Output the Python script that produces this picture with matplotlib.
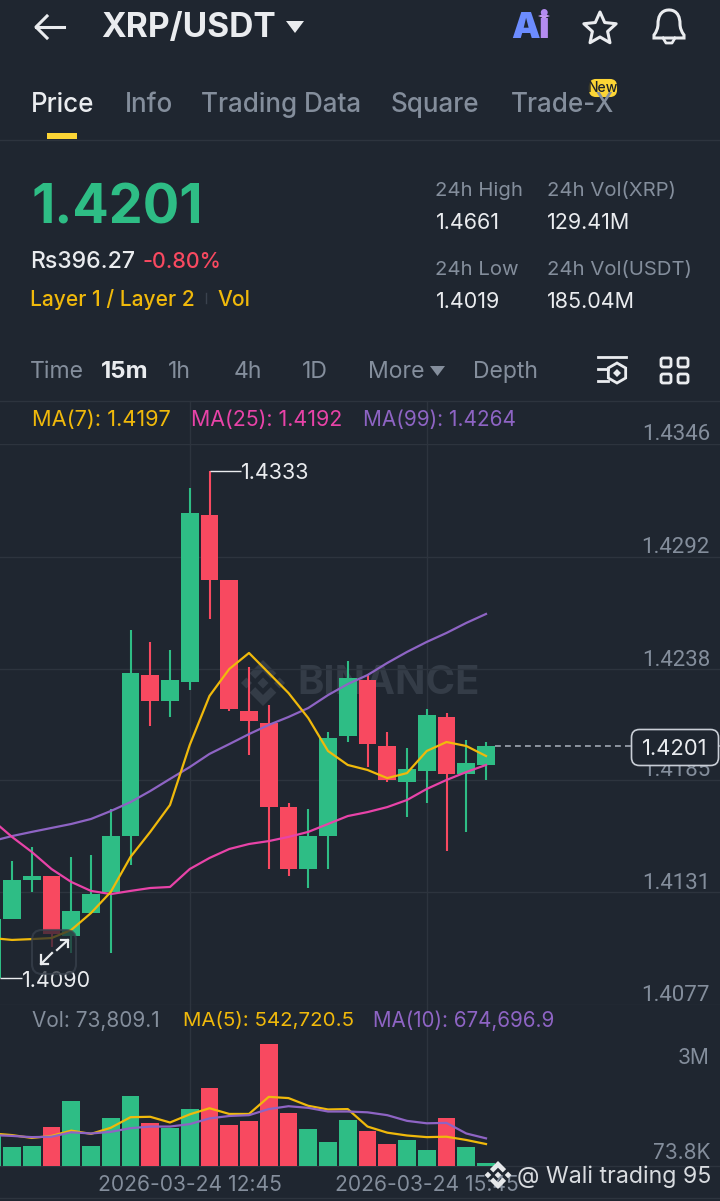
import numpy as np
import matplotlib
matplotlib.use("Agg")
import matplotlib.pyplot as plt
from matplotlib.patches import FancyBboxPatch, Polygon, PathPatch
from matplotlib.path import Path

W, H = 720, 1201

bg = '#1F2630'
grid_c = '#2D343E'
green = '#2EBD85'
red = '#F84960'
yellow = '#F0B90B'
pink = '#E843A8'
purple = '#8E64C4'
grey = '#848E9C'
white = '#EAECEF'

plt.rcParams['font.family'] = ['Inter', 'DejaVu Sans']

# candles, one per 15 minutes
opens = [1.4090, 1.4118, 1.4137, 1.4139, 1.4110, 1.4121, 1.4131, 1.4158, 1.4235, 1.4223, 1.4232, 1.4312, 1.4281,
         1.4218, 1.4212, 1.4172, 1.4142, 1.4158, 1.4206, 1.4233, 1.4201, 1.4184, 1.4189, 1.4215, 1.4188, 1.4192]
closes = [1.4118, 1.4137, 1.4139, 1.4111, 1.4122, 1.4130, 1.4158, 1.4236, 1.4223, 1.4233, 1.4313, 1.4281, 1.4219,
          1.4213, 1.4172, 1.4142, 1.4158, 1.4205, 1.4234, 1.4202, 1.4185, 1.4190, 1.4216, 1.4188, 1.4193, 1.4201]
highs = [1.4118, 1.4146, 1.4153, 1.4139, 1.4148, 1.4149, 1.4171, 1.4257, 1.4251, 1.4247, 1.4325, 1.4333, 1.4281,
         1.4239, 1.4221, 1.4174, 1.4171, 1.4208, 1.4242, 1.4235, 1.4208, 1.4200, 1.4219, 1.4217, 1.4204, 1.4203]
lows = [1.4090, 1.4118, 1.4131, 1.4105, 1.4102, 1.4121, 1.4102, 1.4144, 1.4211, 1.4215, 1.4228, 1.4262, 1.4218,
        1.4197, 1.4142, 1.4139, 1.4133, 1.4142, 1.4203, 1.4191, 1.4184, 1.4167, 1.4174, 1.4151, 1.4160, 1.4185]

ma7 = [1.41091, 1.41082, 1.41086, 1.41091, 1.41130, 1.41211, 1.41312, 1.41480, 1.41600, 1.41729, 1.42017, 1.42252,
       1.42381, 1.42458, 1.42362, 1.42266, 1.42146, 1.41988, 1.41921, 1.41897, 1.41858, 1.41882, 1.41988, 1.42031,
       1.42012, 1.41964]
ma25 = [1.41657, 1.41576, 1.41504, 1.41422, 1.41360, 1.41317, 1.41302, 1.41317, 1.41331, 1.41336, 1.41422, 1.41475,
        1.41518, 1.41542, 1.41556, 1.41576, 1.41600, 1.41638, 1.41676, 1.41695, 1.41719, 1.41753, 1.41806, 1.41849,
        1.41887, 1.41921]
ma99 = [1.41556, 1.41580, 1.41600, 1.41619, 1.41638, 1.41662, 1.41700, 1.41743, 1.41796, 1.41854, 1.41911, 1.41974,
        1.42021, 1.42069, 1.42113, 1.42151, 1.42194, 1.42256, 1.42309, 1.42352, 1.42410, 1.42463, 1.42511, 1.42554,
        1.42602, 1.42645]

# volume in millions
volumes = [0.74, 0.46, 0.49, 0.96, 1.61, 0.48, 1.17, 1.72, 1.05, 0.93, 1.40, 1.93, 1.00, 1.10, 3.00, 1.30, 0.92,
           0.59, 1.14, 0.86, 0.53, 0.63, 0.39, 1.17, 0.46, 0.0738]
vol_ma5 = [0.80, 0.76, 0.69, 0.74, 0.87, 0.79, 0.94, 1.20, 1.21, 1.07, 1.27, 1.42, 1.28, 1.28, 1.70, 1.67, 1.48,
           1.39, 1.40, 0.97, 0.82, 0.75, 0.71, 0.72, 0.64, 0.54]
vol_ma10 = [0.76, 0.74, 0.71, 0.72, 0.83, 0.80, 0.84, 0.93, 0.97, 0.97, 1.03, 1.17, 1.23, 1.25, 1.40, 1.47, 1.43,
            1.34, 1.34, 1.32, 1.25, 1.11, 1.05, 1.06, 0.80, 0.68]

price_ticks = [1.4346, 1.4292, 1.4238, 1.4185, 1.4131, 1.4077]
price_high, price_low = 1.4333, 1.4090
last_price = 1.4201
time_labels = ['2026-03-24 12:45', '2026-03-24 15:45']
time_idx = [10, 22]

fig = plt.figure(figsize=(W / 100, H / 100), dpi=100, facecolor=bg)

ui = fig.add_axes([0, 0, 1, 1], zorder=0)
ui.set_xlim(0, W)
ui.set_ylim(H, 0)
ui.axis('off')

top = fig.add_axes([0, 0, 1, 1], zorder=5)
top.set_xlim(0, W)
top.set_ylim(H, 0)
top.axis('off')
top.patch.set_alpha(0)


def axes_px(x0, y0, x1, y1, zorder=2):
    a = fig.add_axes([x0 / W, 1 - y1 / H, (x1 - x0) / W, (y1 - y0) / H], zorder=zorder)
    a.patch.set_alpha(0)
    for s in a.spines.values():
        s.set_visible(False)
    a.tick_params(length=0, labelbottom=False, labelleft=False)
    return a


def label(a, x, y, s, color=grey, px=22, weight='normal', ha='left'):
    return a.text(x, y + 2, s, color=color, fontsize=px * 0.72, fontweight=weight, ha=ha, va='center')


def binance_logo(a, cx, cy, r, color, zorder=1):
    top_c = [(0, -1), (.58, -.42), (.34, -.18), (0, -.52), (-.34, -.18), (-.58, -.42)]
    bot_c = [(x, -y) for x, y in top_c]
    dia = [(0, -.24), (.24, 0), (0, .24), (-.24, 0)]
    shapes = [top_c, bot_c, dia, [(x - .72, y) for x, y in dia], [(x + .72, y) for x, y in dia]]
    for pts in shapes:
        a.add_patch(Polygon([(cx + x * r, cy + y * r) for x, y in pts], fc=color, ec='none', zorder=zorder))


# header
top.plot([36, 64], [27, 27], color=white, lw=2.2)
top.plot([47, 36, 47], [16, 27, 38], color=white, lw=2.2)
label(top, 101, 26, 'XRP/USDT', white, 33.5, 'bold')
top.add_patch(Polygon([(286, 21), (304, 21), (295, 33)], fc=white, ec='none'))
label(top, 511, 27, 'A', '#6C8CFF', 36, 'black')
label(top, 538, 27, 'i', '#B48CF0', 36, 'black')
top.add_patch(Polygon([(544, 10), (546, 14.5), (550, 16), (546, 17.5), (544, 23), (542, 17.5), (538, 16), (542, 14.5)],
                      fc='#C49AF0', ec='none'))
ang = np.deg2rad(np.arange(10) * 36 - 90)
rad = np.where(np.arange(10) % 2 == 0, 17, 8)
top.add_patch(Polygon(np.c_[600 + rad * np.cos(ang), 29 + rad * np.sin(ang)], fc='none', ec=white, lw=2.2, joinstyle='round'))
bell = Path([(654, 35), (658, 30), (658, 24), (658, 9), (669, 10), (669, 10), (669, 10), (680, 9), (680, 24), (680, 30), (684, 35),
             (684, 38), (654, 38), (654, 35)],
            [Path.MOVETO, Path.CURVE3, Path.CURVE3, Path.CURVE4, Path.CURVE4, Path.CURVE4, Path.CURVE4, Path.CURVE4, Path.CURVE4,
             Path.CURVE3, Path.CURVE3, Path.LINETO, Path.LINETO, Path.CLOSEPOLY])
top.add_patch(PathPatch(bell, fc='none', ec=white, lw=2.2))
top.plot([663, 666, 672, 675], [38, 43, 43, 38], color=white, lw=2)

tabs = ['Price', 'Info', 'Trading Data', 'Square', 'Trade-X']
tab_x = [31, 125, 201, 391, 511]
for s, x in zip(tabs, tab_x):
    label(top, x, 103, s, white if s == 'Price' else grey, 26, 'medium')
top.add_patch(FancyBboxPatch((590, 80), 26, 16, boxstyle='round,pad=0,rounding_size=6', fc='#FCD535', ec='#FCD535', lw=1.5))
label(top, 603, 86, 'New', '#1E2329', 14, 'medium', 'center')
ui.add_patch(plt.Rectangle((47, 133), 30, 6, fc='#FCD535', ec='none'))
ui.plot([0, W], [139.5, 139.5], color=grid_c, lw=1)

# price block
label(top, 32, 207, '1.4201', green, 54, 'bold')
label(top, 30, 260, 'Rs396.27', white, 23, 'medium')
label(top, 143, 260, '-0.80%', red, 21.5, 'medium')
label(top, 30, 298, 'Layer 1 / Layer 2', yellow, 21, 'medium')
ui.plot([205.5, 205.5], [293, 303], color='#3A424E', lw=1)
label(top, 217, 298, 'Vol', yellow, 21, 'medium')
stats = [(435, 189, '24h High', grey), (436, 221, '1.4661', white), (547, 189, '24h Vol(XRP)', grey), (547, 221, '129.41M', white),
         (435, 268, '24h Low', grey), (436, 300, '1.4019', white), (547, 268, '24h Vol(USDT)', grey), (547, 300, '185.04M', white)]
for x, y, s, c in stats:
    label(top, x, y, s, c, 20.3 if c == grey else 21.5)

# interval row
periods = ['Time', '15m', '1h', '4h', '1D', 'More', 'Depth']
period_x = [30, 101, 168, 234, 302, 368, 473]
for s, x in zip(periods, period_x):
    if s == '15m':
        label(top, x, 370, s, white, 24, 'bold')
    else:
        label(top, x, 370, s, grey, 23)
top.add_patch(Polygon([(430, 366), (445, 366), (437.5, 376)], fc=grey, ec='none'))
top.plot([598, 626], [357, 357], color=white, lw=2)
top.plot([598, 608], [369, 369], color=white, lw=2)
top.plot([598, 608], [381, 381], color=white, lw=2)
hexa = [(617 + 10 * np.sin(t), 373 + 10 * np.cos(t)) for t in np.deg2rad(np.arange(6) * 60)]
top.add_patch(Polygon(hexa, fc='none', ec=white, lw=2))
top.add_patch(Polygon([(617, 369), (621, 373), (617, 377), (613, 373)], fc=white, ec='none'))
for x, y in [(661, 358), (678, 358), (661, 374), (678, 374)]:
    top.add_patch(FancyBboxPatch((x, y), 10, 9, boxstyle='round,pad=0,rounding_size=2', fc='none', ec=white, lw=2))

ui.plot([0, W], [401, 401], color=grid_c, lw=1)

# watermark under the candles
binance_logo(ui, 263, 683, 23, '#343C47')
label(ui, 297, 681, 'BINANCE', '#343C47', 40, 'bold')

# price pane
ax = axes_px(0, 444, W, 1005)
x_lim = (7.75 / 19.75, (W + 7.75) / 19.75)
idx = np.arange(len(opens))
ax.set_xlim(x_lim)
ax.set_ylim(price_ticks[-1], price_ticks[0])
ax.set_yticks(price_ticks)
ax.set_xticks([])
ax.grid(True, color=grid_c, lw=1)
ax.set_axisbelow(True)

colors = [green if c >= o else red for o, c in zip(opens, closes)]
ax.vlines(idx, lows, highs, colors=colors, lw=1.5, zorder=2)
ax.bar(idx, np.array(closes) - np.array(opens), bottom=opens, width=0.91, color=colors, zorder=3)
ax.plot(idx, ma99, color=purple, lw=1.6, zorder=4)
ax.plot(idx, ma25, color=pink, lw=1.6, zorder=4)
ax.plot(idx, ma7, color=yellow, lw=1.6, zorder=5)

for p in price_ticks:
    ax.annotate('%.4f' % p, (710 / W, p), xycoords=('axes fraction', 'data'), xytext=(0, 6.6), textcoords='offset points',
                color=grey, fontsize=16, family='Roboto', ha='right', va='center', annotation_clip=False)

ax.hlines(price_high, 11, 11 + 31 / 19.75, color=white, lw=1, zorder=6)
ax.annotate('%.4f' % price_high, (11, price_high), xytext=(31, -2), textcoords='offset pixels', color=white, fontsize=15.5,
            va='center', zorder=6)
ax.hlines(price_low, x_lim[0], x_lim[0] + 22 / 19.75, color=white, lw=1, zorder=6)
ax.annotate('%.4f' % price_low, (x_lim[0], price_low), xytext=(22, -3), textcoords='offset pixels', color=white, fontsize=15.5,
            va='center', zorder=6)
ax.plot([idx[-1] + 0.46, 1e3], [last_price, last_price], color='#A0A7B2', lw=1.2, ls=(0, (3.5, 2.5)), zorder=2)

# vertical grid lines, from the legend row down to the volume baseline
for i in time_idx:
    xp = -7.75 + i * 19.75
    ui.plot([xp, xp], [401, 1166], color=grid_c, lw=1)

# last price tag
top.add_patch(FancyBboxPatch((631.5, 729.5), 87, 36, boxstyle='round,pad=0,rounding_size=8', fc=bg, ec='#C9CED6', lw=1.2))
label(top, 675, 747, '%.4f' % last_price, white, 22, 'normal', 'center')

# legend row
label(top, 32, 418, 'MA(7): 1.4197', yellow, 21.8)
label(top, 191, 418, 'MA(25): 1.4192', pink, 21.4)
label(top, 363, 418, 'MA(99): 1.4264', purple, 20.8)

# expand button
top.add_patch(FancyBboxPatch((32, 930), 44, 44, boxstyle='round,pad=0,rounding_size=10', fc=bg, alpha=0.72, ec='#3A424E', lw=1.5))
top.plot([61, 68, 68], [940, 940, 947], color=white, lw=1.6)
top.plot([57, 68], [950, 940], color=white, lw=1.6)
top.plot([41, 41, 48], [955, 964, 964], color=white, lw=1.6)
top.plot([41, 52], [964, 953], color=white, lw=1.6)

# volume pane
vx = axes_px(0, 1044, W, 1166)
vx.set_xlim(x_lim)
vx.set_ylim(0, 3.0)
vx.bar(idx, volumes, width=0.91, color=colors, zorder=2)
vx.plot(idx, vol_ma5, color=yellow, lw=1.6, zorder=3)
vx.plot(idx, vol_ma10, color=purple, lw=1.6, zorder=4)
vx.set_yticks([])
vx.set_xticks([])

ui.plot([0, W], [1166, 1166], color=grid_c, lw=1)
ui.plot([0, W], [1198, 1198], color=grid_c, lw=1)

label(top, 32, 1019, 'Vol: 73,809.1', grey, 20.8)
label(top, 183, 1019, 'MA(5): 542,720.5', yellow, 20.5)
label(top, 373, 1019, 'MA(10): 674,696.9', purple, 20.6)
label(top, 710, 1056, '3M', grey, 21, ha='right')
label(top, 710, 1151, '73.8K', grey, 20.8, ha='right')

for s, i in zip(time_labels, time_idx):
    label(ui, -7.75 + i * 19.75, 1183, s, grey, 21, ha='center')

# share watermark
binance_logo(top, 498, 1175, 14, '#E6E8EA', zorder=6)
label(top, 517, 1175, '@ Wali trading 95', '#D8DBDF', 23.2)

fig.savefig('out.png', dpi=100, facecolor=bg)
